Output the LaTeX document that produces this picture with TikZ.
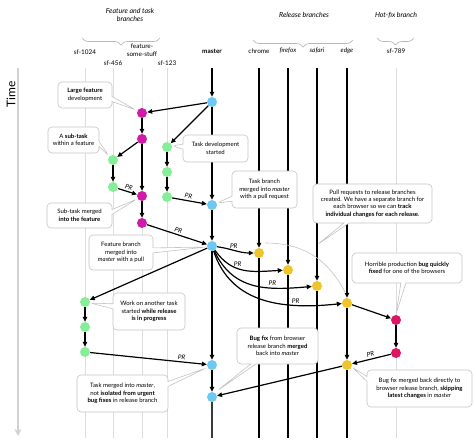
\documentclass[tikz,border=0pt]{standalone}
\usepackage{fontspec}
\setmainfont{Lato}
\usetikzlibrary{arrows.meta,shapes.callouts,decorations.pathreplacing,calc}
\pgfdeclarelayer{background}
\pgfdeclarelayer{foreground}
\pgfsetlayers{background,main,foreground}
\definecolor{gline}{HTML}{DDDDDD}
\definecolor{cborder}{HTML}{C4C4C4}
\definecolor{cblue}{HTML}{6CC9F3}
\definecolor{cmag}{HTML}{D01AA8}
\definecolor{cgreen}{HTML}{86EE98}
\definecolor{cyel}{HTML}{F0C52C}
\definecolor{cred}{HTML}{DE1560}
\definecolor{taxis}{HTML}{D2D2D2}
\definecolor{mbottom}{HTML}{3A3A3A}
\begin{document}
\begin{tikzpicture}[x=1pt,y=-1pt,
  dot/.style={circle,inner sep=0pt,minimum size=10pt},
  bdot/.style={dot,fill=cblue},
  mdot/.style={dot,fill=cmag},
  gdot/.style={dot,fill=cgreen},
  ydot/.style={dot,fill=cyel},
  rdot/.style={dot,fill=cred},
  flow/.style={line width=1.2pt,-{Triangle[length=5pt,width=4.5pt]}},
  rel/.style={line width=1.3pt},
  glin/.style={gline,line width=0.8pt},
  prl/.style={font=\fontsize{6.5}{7}\selectfont\itshape,inner sep=1.5pt},
  note/.style={rectangle callout,draw=cborder,fill=white,line width=0.6pt,
     rounded corners=4pt,align=center,font=\fontsize{6}{7.4}\selectfont,
     inner sep=2pt,callout pointer width=5pt},
  blabel/.style={font=\fontsize{6.4}{7.5}\selectfont,align=center},
  hdr/.style={font=\fontsize{7}{8.5}\selectfont\itshape,align=center},
  brc/.style={gray!55,line width=0.7pt,decorate,decoration={brace,mirror,amplitude=7pt}}]
\useasboundingbox (0,0) rectangle (474,440);

% headers
\node[hdr] (h1) at (130,15) {Feature and task\\branches};
\node[hdr] (h2) at (304,15) {Release branches};
\node[hdr] (h3) at (396,15) {Hot-fix branch};
\coordinate (b1a) at (82,38); \coordinate (b1b) at (160,38);
\coordinate (b2a) at (253,40); \coordinate (b2b) at (353,40);
\coordinate (b3a) at (377,38); \coordinate (b3b) at (414,38);
\draw[brc] (b1a) -- (b1b);
\draw[brc] (b2a) -- (b2b);
\draw[brc] (b3a) -- (b3b);

% branch labels
\node[blabel] (l1024) at (85,52) {sf-1024};
\node[blabel] (l456) at (113,63) {sf-456};
\node[blabel] (lfeat) at (142,50) {feature-\\some-stuff};
\node[blabel] (l123) at (167,63) {sf-123};
\node[blabel,font=\fontsize{6.4}{7.5}\selectfont\bfseries] (lmaster) at (212,51) {master};
\node[blabel] (lchrome) at (259,51) {chrome};
\node[blabel,font=\fontsize{6.4}{7.5}\selectfont\itshape] (lfirefox) at (288,51) {firefox};
\node[blabel,font=\fontsize{6.4}{7.5}\selectfont\itshape] (lsafari) at (317,51) {safari};
\node[blabel,font=\fontsize{6.4}{7.5}\selectfont\itshape] (ledge) at (347,51) {edge};
\node[blabel] (l789) at (396,51) {sf-789};

% time
\node[rotate=90,font=\fontsize{12}{12}\selectfont] (time) at (11,94) {Time};
\coordinate (ta) at (18,68); \coordinate (tb) at (18,436);

% background lines
\coordinate (g1t) at (85,68);  \coordinate (g1b) at (85,438);
\coordinate (g2t) at (113,68); \coordinate (g2b) at (113,438);
\coordinate (g3t) at (142,68); \coordinate (g3b) at (142,438);
\coordinate (g4t) at (167,68); \coordinate (g4b) at (167,438);
\coordinate (g5t) at (396,68); \coordinate (g5b) at (396,438);
\begin{pgfonlayer}{background}
\draw[taxis,line width=1.3pt,-{Stealth[length=7pt,width=7pt,inset=2pt]}] (ta) -- (tb);
\draw[glin] (g1t) -- (g1b);
\draw[glin] (g2t) -- (g2b);
\draw[glin] (g3t) -- (g3b);
\draw[glin] (g4t) -- (g4b);
\draw[glin] (g5t) -- (g5b);
\end{pgfonlayer}

% commits
\node[bdot] (M1) at (212,102) {};
\node[bdot] (M2) at (212,205) {};
\node[bdot] (M3) at (212,246) {};
\node[bdot] (M4) at (212,365) {};
\node[bdot] (M5) at (212,397) {};
\node[mdot] (F1) at (142,113) {};
\node[mdot] (F2) at (142,139) {};
\node[mdot] (F3) at (142,196) {};
\node[mdot] (F4) at (142,223) {};
\node[gdot] (S1) at (113,160) {};
\node[gdot] (S2) at (113,187) {};
\node[gdot] (T1) at (167,147) {};
\node[gdot] (T2) at (167,172) {};
\node[gdot] (T3) at (167,197) {};
\node[gdot] (G1) at (85,302) {};
\node[gdot] (G2) at (85,327) {};
\node[gdot] (G3) at (85,352) {};
\node[ydot] (C1) at (259,253) {};
\node[ydot] (X1) at (288,270) {};
\node[ydot] (Y1) at (317,286) {};
\node[ydot] (E1) at (347,303) {};
\node[ydot] (E2) at (347,365) {};
\node[rdot] (H1) at (396,320) {};
\node[rdot] (H2) at (396,353) {};

% release / master line ends
\coordinate (mT) at (212,68);  \coordinate (mB) at (212,438);
\coordinate (cT) at (259,68);  \coordinate (cB) at (259,438);
\coordinate (xT) at (288,68);  \coordinate (xB) at (288,438);
\coordinate (yT) at (317,68);  \coordinate (yB) at (317,438);
\coordinate (eT) at (347,68);  \coordinate (eB) at (347,438);

\draw[flow] (mT) -- (M1);
\draw[flow] (M1) -- (M2);
\draw[flow] (M2) -- (M3);
\draw[flow] (M3) -- (M4);
\draw[flow] (M4) -- (M5);
\draw[rel,mbottom] (M5) -- (mB);
\draw[flow] (cT) -- (C1);  \draw[rel] (C1) -- (cB);
\draw[flow] (xT) -- (X1);  \draw[rel] (X1) -- (xB);
\draw[flow] (yT) -- (Y1);  \draw[rel] (Y1) -- (yB);
\draw[flow] (eT) -- (E1);  \draw[flow] (E1) -- (E2); \draw[rel] (E2) -- (eB);

\draw[flow] (M1) -- (F1);
\draw[flow] (M1) -- (T1);
\draw[flow] (F1) -- (F2);
\draw[flow] (F2) -- (S1);
\draw[flow] (F2) -- (F3);
\draw[flow] (S1) -- (S2);
\draw[flow] (S2) -- node[prl,sloped,above] {PR} (F3);
\draw[flow] (F3) -- (F4);
\draw[flow] (T1) -- (T2);
\draw[flow] (T2) -- (T3);
\draw[flow] (T3) -- node[prl,sloped,above,pos=0.45] {PR} (M2);
\draw[flow] (F4) -- node[prl,sloped,above] {PR} (M3);
\draw[flow] (M3) -- (G1);
\draw[flow] (G1) -- (G2);
\draw[flow] (G2) -- (G3);
\draw[flow] (G3) -- node[prl,sloped,above,pos=0.78] {PR} (M4);
\draw[flow] (M3) to[out=-8,in=180] node[prl,above,pos=0.45] {PR} (C1);
\draw[flow] (M3) to[out=-55,in=183,looseness=1.1] node[prl,above,pos=0.4] {PR} (X1);
\draw[flow] (M3) to[out=-65,in=185,looseness=1.1] node[prl,above,pos=0.68] {PR} (Y1);
\draw[flow] (M3) to[out=-72,in=186,looseness=1.05] node[prl,above,pos=0.72] {PR} (E1);
\draw[flow] (E1) -- (H1);
\draw[flow] (H1) -- (H2);
\draw[flow] (H2) -- node[prl,sloped,above] {PR} (E2);
\draw[flow] (E2) -- (M5);

\coordinate (gc1) at (265,243); \coordinate (gc2) at (345,292);
\draw[cborder,line width=0.6pt] (gc1) .. controls (300,243) and (326,256) .. (gc2);

% callouts
\begin{pgfonlayer}{foreground}
\node[note,minimum width=54pt,minimum height=26pt,callout absolute pointer={(136,110)}] (n1) at (85,95) {\textbf{Large feature}\\development};
\node[note,minimum width=51pt,minimum height=26pt,callout absolute pointer={(109,156)}] (n2) at (73.5,140) {A \textbf{sub-task}\\within a feature};
\node[note,minimum width=65pt,minimum height=27pt,callout absolute pointer={(172,146)}] (n3) at (215.5,148.5) {Task development\\started};
\node[note,minimum width=65pt,minimum height=37pt,callout absolute pointer={(217,203)}] (n4) at (264.5,189.5) {Task branch\\merged into \textit{master}\\with a pull request};
\node[note,minimum width=65pt,minimum height=25pt,callout absolute pointer={(137,199)}] (n5) at (79.5,215.5) {Sub-task merged\\\textbf{into the feature}};
\node[note,minimum width=64pt,minimum height=35pt,callout absolute pointer={(206,247)}] (n6) at (121,252.5) {Feature branch\\merged into\\\textit{master} with a pull};
\node[note,minimum width=72pt,minimum height=37pt,callout absolute pointer={(90,303)}] (n7) at (149,311.5) {Work on another task\\started \textbf{while release}\\\textbf{is in progress}};
\node[note,minimum width=91pt,minimum height=37pt,callout absolute pointer={(206,368)}] (n8) at (122.5,393.5) {Task merged into \textit{master},\\not \textbf{isolated from urgent}\\\textbf{bug fixes} in release branch};
\node[note,minimum width=81pt,minimum height=36pt,callout absolute pointer={(217,391)}] (n9) at (277.5,346) {\textbf{Bug fix} from browser\\release branch \textbf{merged}\\back into \textit{master}};
\node[note,minimum width=119pt,minimum height=39pt,callout absolute pointer={(317,245)}] (n10) at (372.5,203.5) {Pull requests to release branches\\created. We have a separate branch for\\each browser so we can \textbf{track}\\\textbf{individual changes for each release}.};
\node[note,minimum width=110pt,minimum height=30pt,callout absolute pointer={(396,314)}] (n11) at (407,268) {Horrible production \textbf{bug quickly}\\\textbf{fixed} for one of the browsers};
\node[note,minimum width=105pt,minimum height=37pt,callout absolute pointer={(352,367)}] (n12) at (419.5,388.5) {Bug fix merged back directly to\\browser release branch, \textbf{skipping}\\\textbf{latest changes} in \textit{master}};
\end{pgfonlayer}
\end{tikzpicture}
\end{document}
